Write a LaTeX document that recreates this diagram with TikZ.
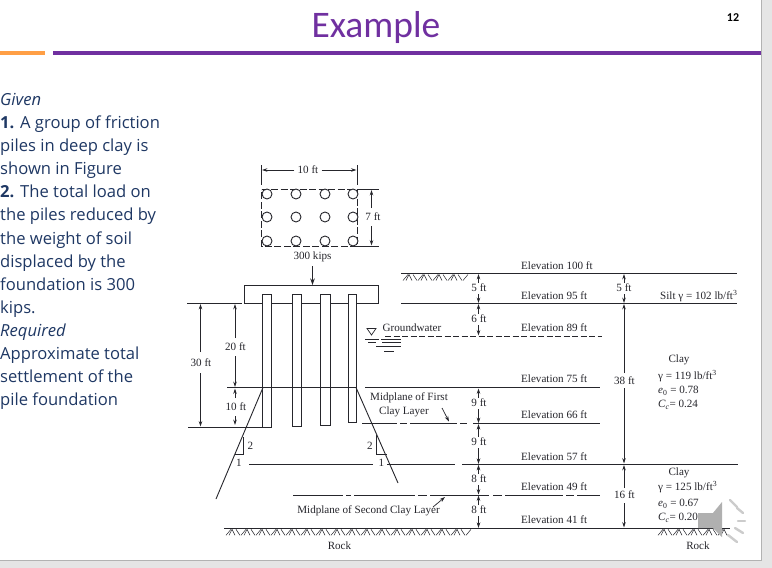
\documentclass[tikz,border=0pt]{standalone}
\usepackage{fontspec}
\setmainfont{Liberation Serif}
\newfontfamily\carlito{Carlito}
\newfontfamily\opensans{Open Sans}
\usetikzlibrary{arrows.meta}
\definecolor{purp}{HTML}{7030A0}
\definecolor{orng}{HTML}{FF9F45}
\definecolor{navy}{HTML}{1F3864}
\definecolor{ink}{HTML}{26262C}
\tikzset{
  ln/.style={draw=ink,line width=0.9pt},
  thn/.style={draw=ink,line width=0.7pt},
  arr/.style={draw=ink,line width=0.7pt,-{Stealth[length=5.5pt,width=3.6pt]}},
  lab/.style={inner sep=0pt,font=\fontsize{11.1}{12}\selectfont,text=ink},
  labl/.style={lab,anchor=west},
  body/.style={inner sep=0pt,anchor=base west,text=navy,font=\opensans\fontsize{16.6}{20}\selectfont},
  hatchline/.style={draw=ink,line width=0.5pt},
  pile/.style={draw=ink,line width=0.9pt,fill=white},
  pilec/.style={draw=ink,line width=0.8pt},
  speaker/.style={fill=gray!62,draw=none}
}
\newcommand{\hatchrow}[3]{%
  \pgfmathsetmacro{\hend}{#2}
  \foreach \xx [count=\ii] in {#1,\the\numexpr#1+5\relax,...,\hend}{
    \pgfmathtruncatemacro{\kk}{mod(\ii,3)}
    \ifnum\kk=0 \draw[hatchline] (\xx,#3+1)--(\xx+4,#3+7);\fi
    \ifnum\kk=1 \draw[hatchline] (\xx,#3+7)--(\xx+5,#3+1);\fi
    \ifnum\kk=2 \draw[hatchline] (\xx+1,#3+1)--(\xx-2,#3+7);\draw[hatchline] (\xx+1,#3+1)--(\xx+4,#3+7);\fi
  }}
\begin{document}
\begin{tikzpicture}[x=1pt,y=-1pt]
\useasboundingbox (0,0) rectangle (772,568);
\fill[white] (0,0) rectangle (772,568);
\fill[black!10] (762,0) rectangle (772,568);
\fill[black!10] (0,561) rectangle (772,568);
\draw[black!30,line width=0.5pt] (761.5,0)--(761.5,560.5)--(0,560.5);
% header
\node[inner sep=0pt,text=purp,font=\carlito\fontsize{37.5}{40}\selectfont] (title) at (376,28) {Example};
\node[inner sep=0pt,font=\carlito\bfseries\fontsize{12}{14}\selectfont] (pageno) at (733,18) {12};
\fill[orng] (0,51) rectangle (45,55);
\fill[purp] (53,51) rectangle (761,55);
% left text
\foreach \yy/\tt in {
 128/{\textbf{1.} A group of friction},
 151/{piles in deep clay is},
 174/{shown in Figure},
 197/{\textbf{2.} The total load on},
 220/{the piles reduced by},
 244/{the weight of soil},
 267/{displaced by the},
 290/{foundation is 300},
 313/{kips.},
 359/{Approximate total},
 382/{settlement of the},
 405/{pile foundation}}{\node[body] at (0,\yy) {\tt};}
\node[body] (given) at (0,105) {\itshape Given};
\node[body] (req) at (0,336) {\itshape Required};
% plan view
\draw[thn] (261.5,165)--(261.5,185) (357,165)--(357,185);
\node[lab] (tenft) at (308,170) {10 ft};
\draw[arr] (tenft.west)++(-3,0)--(262,170);
\draw[arr] (tenft.east)++(3,0)--(356.5,170);
\draw[ln,dash pattern=on 7pt off 2.5pt] (261.5,189.5)--(357,189.5)--(357,246)--(261.5,246)--cycle;
\draw[thn] (357,189.5)--(379,189.5) (357,246)--(379,246);
\foreach \cx in {267,296,325,353}{\foreach \cy in {194,217,241}{\draw[ln,fill=white] (\cx,\cy) circle (5);}}
\node[lab] (sevenft) at (373,217) {7 ft};
\draw[arr] (371.5,208)--(371.5,190);
\draw[arr] (371.5,226)--(371.5,245.5);
\node[lab] (kips) at (312.5,257) {300 kips};
\coordinate (cap) at (312.5,285);
\draw[draw=ink,line width=1.1pt,-{Stealth[length=6.5pt,width=4.5pt]}] (312.5,266)--(cap);
% cap & piles
\draw[pilec,fill=white] (244,285) rectangle (378,303);
\foreach \a/\b/\c in {262.5/271.7/427,292/301/426,320/330/425,348/356.5/422.7}{\draw[pile] (\a,\c)--(\a,294)--(\b,294)--(\b,\c)--cycle;}
% left reference lines
\draw[thn] (187,303.5)--(242,303.5);
\draw[thn] (227,387.5)--(262,387.5);
\draw[ln] (263,387.5)--(356,387.5);
\draw[thn] (188,427)--(262,427);
\draw[arr] (200.5,352)--(200.5,304);
\draw[arr] (200.5,373)--(200.5,426.5);
\node[lab] at (201,363) {30 ft};
\draw[arr] (235,338)--(235,304);
\draw[arr] (235,356)--(235,387);
\node[lab] at (235.5,347) {20 ft};
\draw[arr] (235,398)--(235,388.5);
\draw[arr] (235,416)--(235,425);
\node[lab] at (236,407) {10 ft};
% slopes
\draw[ln] (263,387.5)--(216,499);
\draw[ln] (356,387.5)--(398,483);
\draw[thn] (243.5,437)--(243.5,454)--(235,454);
\draw[thn] (376.5,435)--(376.5,454)--(387,454);
\node[lab] at (250.5,446) {2};
\node[lab] at (239,463) {1};
\node[lab] at (370,446) {2};
\node[lab] at (381.5,463) {1};
% ground
\draw[ln] (401,273.5)--(737,273.5);
\hatchrow{403}{464}{273.5}
\draw[ln] (401,303.5)--(737,303.5);
% groundwater
\draw[thn] (367,328.5)--(376,328.5)--(371.5,335)--cycle;
\draw[ln,dash pattern=on 6pt off 2.5pt] (385,336)--(602,336);
\draw[thn] (365,339.3)--(379,339.3) (381,339.3)--(401,339.3) (368,342.7)--(376,342.7) (382,342.7)--(401,342.7) (376,346.7)--(401,346.7) (384,351)--(394,351);
\node[lab] (gw) at (412,328) {Groundwater};
% clay lines
\draw[ln] (365,387.8)--(600,387.8);
\draw[ln] (362,423.6)--(397,423.6) (400,423.6)--(407,423.6) (410,423.6)--(457,423.6) (460,423.6)--(467,423.6) (473,423.6)--(600,423.6);
\node[lab] (mid1a) at (409,398) {Midplane of First};
\node[lab] (mid1b) at (404,412) {Clay Layer};
\draw[arr] (442,408)--(449,421.5);
\draw[ln] (249,464.3)--(373,464.3) (387,464.3)--(455,464.3) (462,464.3)--(738,464.3);
\draw[ln] (293,495)--(343,495) (346,495)--(351,495) (354,495)--(415,495) (418,495)--(427,495) (430,495)--(489,495) (493,495)--(502,495) (505,495)--(563,495) (566,495)--(574,495) (577,495)--(600,495);
\node[lab] (mid2) at (368.5,511) {Midplane of Second Clay Layer};
\draw[arr] (433,507)--(445,497);
% rock
\draw[ln] (224,528.3)--(730,528.3);
\hatchrow{226}{470}{528.3}
\hatchrow{658}{726}{528.3}
\node[lab] at (339.5,546) {Rock};
\node[lab] at (698,546) {Rock};
% elevation dims col 1
\foreach \la/\lb/\ly/\tx in {273.5/303.5/288/5 ft,303.5/336/319/6 ft,388/423.6/403/9 ft,423.6/464.3/442/9 ft,464.3/495/479/8 ft,495/528.3/510/8 ft}{
  \draw[arr] (478.5,\ly-5)--(478.5,\la+0.5);
  \draw[arr] (478.5,\ly+6)--(478.5,\lb-0.5);
  \node[lab] at (479,\ly) {\tx};
}
% elevation labels
\foreach \ey/\tx in {266/100,295.5/95,328/89,379/75,415/66,457/57,487/49,520/41}{
  \node[labl] at (521,\ey) {Elevation \tx\ ft};
}
% col 2
\draw[arr] (624,283)--(624,274);
\draw[arr] (624,294)--(624,303);
\node[lab] at (624,288) {5 ft};
\draw[arr] (624,373)--(624,304);
\draw[arr] (624,388)--(624,463.5);
\node[lab] at (624.5,380.5) {38 ft};
\draw[arr] (624,488)--(624,465);
\draw[arr] (624,503)--(624,527.5);
\node[lab] at (624.5,495) {16 ft};
% soil labels
\node[labl] at (660,296) {Silt γ = 102 lb/ft\textsuperscript{3}};
\node[lab] at (679,360) {Clay};
\node[labl] at (658,376) {γ = 119 lb/ft\textsuperscript{3}};
\node[labl] at (658,391) {\textit{e}\textsubscript{0} = 0.78};
\node[labl] at (658,405) {\textit{C\textsubscript{c}}= 0.24};
\node[lab] at (679,473) {Clay};
\node[labl] at (658,487) {γ = 125 lb/ft\textsuperscript{3}};
\node[labl] at (658,504) {\textit{e}\textsubscript{0} = 0.67};
\node[labl] at (658,518) {\textit{C\textsubscript{c}}= 0.20};
% speaker
\fill[speaker] (698,513)--(713,513)--(722,502)--(722,537)--(713,528)--(698,528)--cycle;
\foreach \a/\b/\c/\d in {730/500/737/507,737/508/743/513,738/521/745/521,735/528/743/533,728/535/737/542}{\draw[gray!40,line width=2.4pt,line cap=round] (\a,\b)--(\c,\d);}
\end{tikzpicture}
\end{document}
